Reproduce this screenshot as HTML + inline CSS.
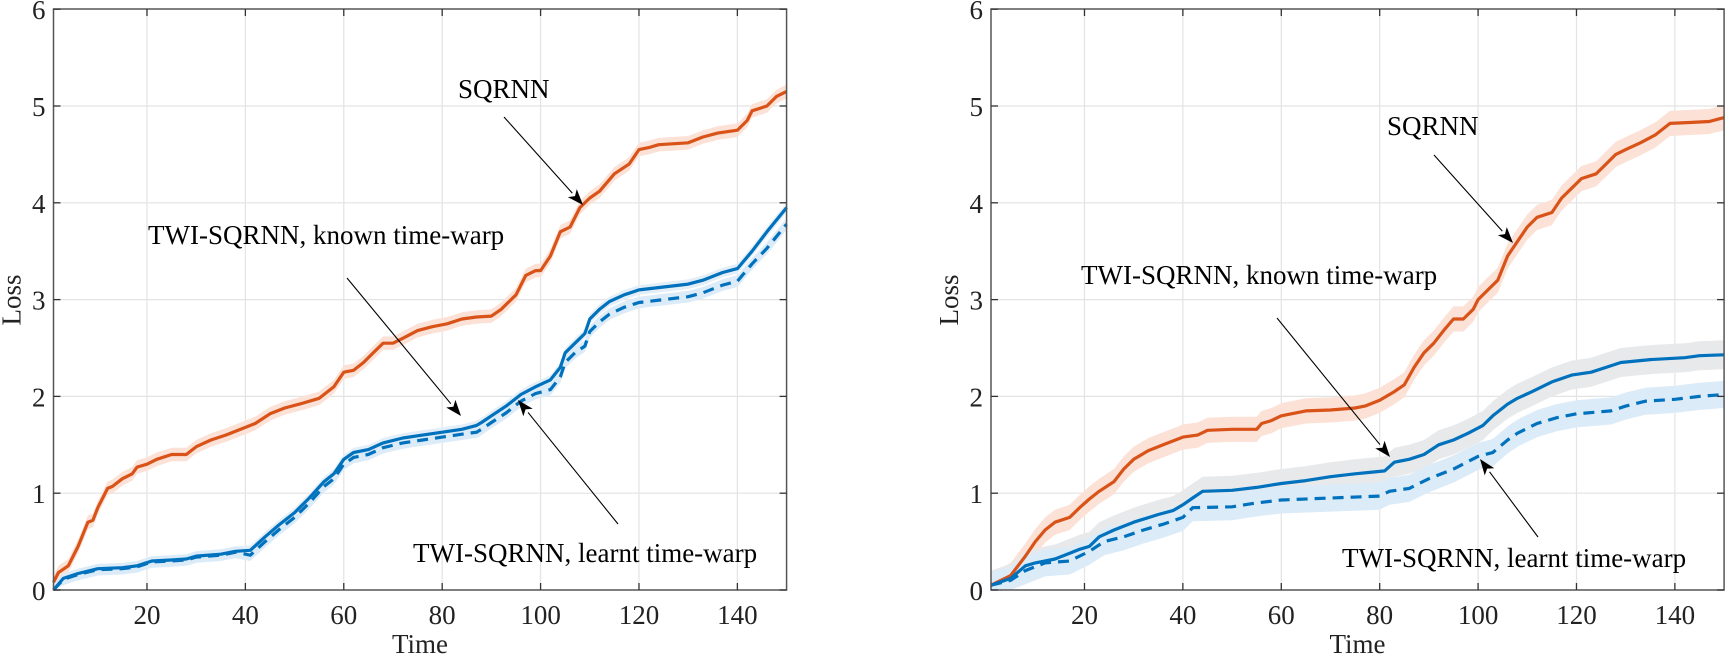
<!DOCTYPE html>
<html><head><meta charset="utf-8"><style>
html,body{margin:0;padding:0;background:#fff;}
svg{display:block;font-family:"Liberation Serif",serif;}
</style></head><body>
<svg id="s" width="1725" height="658" xmlns="http://www.w3.org/2000/svg"></svg>
<script>
const S=document.getElementById('s');let h='';
const Y=v=>590-v*96.8;
function panel(x0,d){
  const X=t=>x0+(t-1)*4.92, xr=X(150);
  for(let t=20;t<=140;t+=20)h+=`<line x1="${X(t)}" y1="9" x2="${X(t)}" y2="590" stroke="#e3e3e3" stroke-width="1.2"/>`;
  for(let v=1;v<=5;v++)h+=`<line x1="${x0}" y1="${Y(v)}" x2="${xr}" y2="${Y(v)}" stroke="#e3e3e3" stroke-width="1.2"/>`;
  const path=a=>a.map((p,i)=>(i?'L':'M')+X(p[0]).toFixed(1)+' '+Y(p[1]).toFixed(1)).join(' ');
  const band=(a,w,c)=>{const up=a.map(p=>[p[0],p[1]+w]),lo=a.map(p=>[p[0],Math.max(0,p[1]-w)]).reverse();h+=`<path d="${path(up.concat(lo))} Z" fill="${c}" stroke="none"/>`;};
  band(d.o,d.wo,'#fbe1d6');band(d.b,d.wb,d.gb);band(d.db,d.wd,'#dcebf8');
  h+=`<path d="${path(d.o)}" fill="none" stroke="#D95319" stroke-width="3.2" stroke-linejoin="round"/>`;
  h+=`<path d="${path(d.db)}" fill="none" stroke="#0072BD" stroke-width="3.2" stroke-dasharray="11,7"/>`;
  h+=`<path d="${path(d.b)}" fill="none" stroke="#0072BD" stroke-width="3.2" stroke-linejoin="round"/>`;
  h+=`<rect x="${x0}" y="9" width="${xr-x0}" height="581" fill="none" stroke="#555" stroke-width="1.5"/>`;
  for(let t=20;t<=140;t+=20){h+=`<line x1="${X(t)}" y1="590" x2="${X(t)}" y2="583" stroke="#333" stroke-width="1.3"/><line x1="${X(t)}" y1="9" x2="${X(t)}" y2="16" stroke="#333" stroke-width="1.3"/>`;
    h+=`<text x="${X(t)}" y="624" font-size="27" text-anchor="middle" fill="#222">${t}</text>`;}
  for(let v=0;v<=6;v++){h+=`<line x1="${x0}" y1="${Y(v)}" x2="${x0+7}" y2="${Y(v)}" stroke="#333" stroke-width="1.3"/><line x1="${xr}" y1="${Y(v)}" x2="${xr-7}" y2="${Y(v)}" stroke="#333" stroke-width="1.3"/>`;
    h+=`<text x="${x0-8}" y="${Y(v)+10}" font-size="27" text-anchor="end" fill="#222">${v}</text>`;}
  h+=`<text x="${(x0+xr)/2}" y="653" font-size="27" text-anchor="middle" fill="#222">Time</text>`;
  h+=`<text transform="translate(${x0-33},300) rotate(-90)" font-size="27" text-anchor="middle" fill="#222">Loss</text>`;
}
function arrow(x1,y1,x2,y2){const a=Math.atan2(y2-y1,x2-x1),L=16,W=6;
  const bx=x2-L*Math.cos(a),by=y2-L*Math.sin(a),px=-Math.sin(a)*W,py=Math.cos(a)*W;
  h+=`<line x1="${x1}" y1="${y1}" x2="${bx}" y2="${by}" stroke="#000" stroke-width="1.1"/>`;
  h+=`<path d="M${x2} ${y2} L${bx+px} ${by+py} L${bx+4*Math.cos(a)} ${by+4*Math.sin(a)} L${bx-px} ${by-py} Z" fill="#000"/>`;}
function lbl(x,y,s){h+=`<text x="${x}" y="${y}" font-size="27" fill="#000">${s}</text>`;}
const P=s=>s.trim().split(/\s+/).map(q=>q.split(':').map(Number));
const lo=P(`1:0.08 2:0.18 4:0.25 6:0.45 8:0.7 9:0.72 10:0.85 12:1.05 13:1.07 15:1.15 17:1.2 18:1.27 20:1.3 22:1.35 25:1.4 28:1.4 30:1.48 33:1.55 36:1.6 40:1.68 42:1.72 45:1.82 48:1.88 51:1.92 55:1.98 58:2.1 60:2.25 62:2.27 64:2.35 66:2.45 68:2.55 70:2.55 72:2.6 75:2.68 78:2.72 81:2.75 84:2.8 87:2.82 90:2.83 92:2.9 94:3.0 95:3.05 97:3.25 99:3.3 100:3.3 102:3.45 104:3.7 106:3.75 108:3.95 110:4.05 112:4.12 115:4.3 118:4.4 120:4.55 122:4.57 124:4.6 130:4.62 133:4.68 136:4.72 140:4.75 142:4.85 143:4.95 146:5.0 148:5.1 150:5.15`);
const lb=P(`1:0 3:0.12 6:0.17 10:0.22 15:0.23 18:0.25 21:0.3 25:0.31 28:0.32 30:0.35 35:0.37 38:0.4 41:0.41 44:0.55 47:0.68 50:0.8 53:0.95 56:1.12 58:1.2 60:1.35 62:1.42 65:1.45 68:1.52 72:1.57 76:1.6 80:1.63 84:1.66 87:1.7 88:1.73 90:1.8 93:1.9 96:2.02 99:2.1 102:2.17 104:2.3 105:2.45 107:2.55 109:2.65 110:2.8 112:2.9 114:2.98 117:3.05 120:3.1 125:3.13 130:3.16 133:3.2 137:3.28 140:3.32 143:3.5 146:3.7 150:3.95`);
const ld=lb.map(p=>{const t=p[0];let o=t<40?0.01:t<85?0.05:t<100?0.07:t<108?0.1:t<145?0.13:0.17;return [t,Math.max(0,p[1]-o)];});
panel(53.5,{o:lo,b:lb,db:ld,wo:0.07,wb:0.05,wd:0.06,gb:'#e3eef8'});
const ro=P(`1:0.05 5:0.15 8:0.35 10:0.5 12:0.62 14:0.7 17:0.75 19:0.85 21:0.94 23:1.02 26:1.12 28:1.25 30:1.35 33:1.44 36:1.5 40:1.58 43:1.6 45:1.65 50:1.66 55:1.66 56:1.72 58:1.75 60:1.8 65:1.85 70:1.86 75:1.88 77:1.9 80:1.96 83:2.05 85:2.12 87:2.3 89:2.45 91:2.55 93:2.68 95:2.8 97:2.8 99:2.9 100:3.0 102:3.1 104:3.2 106:3.45 108:3.6 110:3.75 112:3.85 115:3.9 117:4.05 119:4.15 121:4.25 124:4.3 126:4.4 128:4.5 130:4.55 133:4.62 136:4.7 139:4.82 143:4.83 147:4.84 150:4.88`);
const rb=P(`1:0.05 5:0.12 8:0.25 10:0.28 14:0.32 17:0.38 19:0.42 21:0.45 23:0.55 26:0.62 30:0.7 35:0.78 38:0.82 40:0.88 42:0.95 44:1.02 50:1.03 55:1.06 60:1.1 65:1.13 70:1.17 75:1.2 79:1.22 81:1.23 83:1.32 86:1.35 89:1.4 92:1.5 95:1.55 98:1.62 101:1.7 103:1.8 106:1.92 108:1.98 111:2.05 115:2.15 119:2.22 123:2.25 126:2.3 129:2.35 135:2.38 142:2.4 145:2.42 150:2.43`);
const rd=P(`1:0.05 5:0.1 8:0.2 12:0.28 17:0.3 21:0.4 24:0.5 28:0.55 32:0.62 36:0.68 40:0.75 42:0.85 50:0.86 55:0.9 60:0.93 70:0.95 80:0.97 82:1.02 86:1.05 90:1.15 95:1.25 100:1.38 103:1.42 106:1.55 108:1.62 112:1.72 116:1.78 120:1.82 127:1.85 130:1.9 134:1.95 140:1.97 145:2.0 150:2.02`);
panel(991,{o:ro,b:rb,db:rd,wo:0.13,wb:0.15,wd:0.14,gb:'#e8e9eb'});
lbl(458,98,'SQRNN');arrow(504,117,583,205);
lbl(148,244,'TWI-SQRNN, known time-warp');arrow(347,278,461,416);
lbl(413,562,'TWI-SQRNN, learnt time-warp');arrow(618,524,518,400);
lbl(1387,135,'SQRNN');arrow(1434,155,1513,243);
lbl(1081,284,'TWI-SQRNN, known time-warp');arrow(1277,318,1390,457);
lbl(1342,567,'TWI-SQRNN, learnt time-warp');arrow(1538,537,1480,459);
S.innerHTML=h;
</script>
</body></html>
